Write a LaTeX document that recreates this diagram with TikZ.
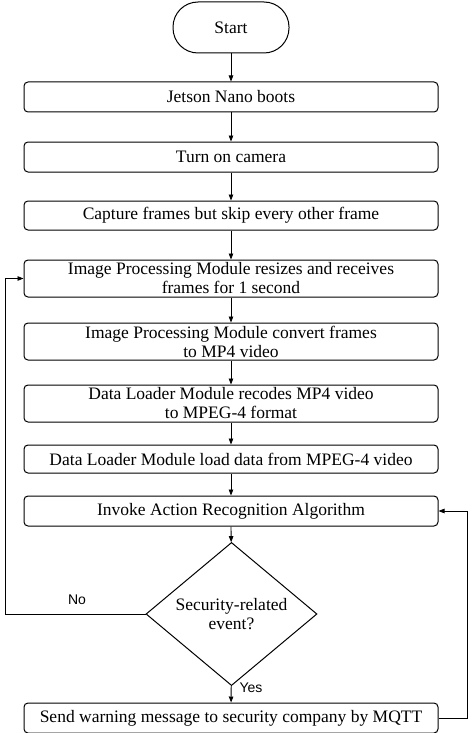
\documentclass[tikz,border=0pt]{standalone}
\usepackage{fontspec}
\setmainfont{Liberation Serif}
\newfontfamily\labelfont{Liberation Sans}
\usetikzlibrary{arrows.meta,shapes.geometric}
\begin{document}
\begin{tikzpicture}[x=1pt,y=-1pt,
  every node/.style={font=\fontsize{17.5}{19}\selectfont},
  proc/.style={draw,line width=1pt,rounded corners=4pt,minimum width=414pt,inner sep=0pt,align=center},
  startbox/.style={draw,line width=1pt,rounded corners=25pt,minimum width=116pt,minimum height=51pt,inner sep=0pt},
  decision/.style={draw,line width=1pt,diamond,minimum width=171pt,minimum height=118pt,inner sep=0pt,align=center},
  flow/.style={line width=0.8pt,-{Triangle[length=6pt,width=4.5pt]}},
  branch/.style={font=\labelfont\fontsize{14}{16}\selectfont}
]
\useasboundingbox (0,0) rectangle (474,733);
\node[startbox] (s) at (231,27.5) {Start};
\node[proc,minimum height=30pt] (b1) at (231,97) {Jetson Nano boots};
\node[proc,minimum height=30pt] (b2) at (231,157) {Turn on camera};
\node[proc,minimum height=29pt] (b3) at (231,215.5) {Capture frames but skip every other frame};
\node[proc,minimum height=37pt] (b4) at (231,278.5) {Image Processing Module resizes and receives\\frames for 1 second};
\node[proc,minimum height=37pt] (b5) at (231,341.5) {Image Processing Module convert frames\\to MP4 video};
\node[proc,minimum height=37pt] (b6) at (231,403.5) {Data Loader Module recodes MP4 video\\to MPEG-4 format};
\node[proc,minimum height=28pt] (b7) at (231,459) {Data Loader Module load data from MPEG-4 video};
\node[proc,minimum height=30pt] (b8) at (231,511) {Invoke Action Recognition Algorithm};
\node[decision] (d) at (231.5,614) {Security-related\\event?};
\node[proc,minimum height=30pt] (b9) at (231,718) {Send warning message to security company by MQTT};
\coordinate (nl) at (5,614);
\coordinate (yr) at (467,718);
\draw[flow] (s) -- (b1);
\draw[flow] (b1) -- (b2);
\draw[flow] (b2) -- (b3);
\draw[flow] (b3) -- (b4);
\draw[flow] (b4) -- (b5);
\draw[flow] (b5) -- (b6);
\draw[flow] (b6) -- (b7);
\draw[flow] (b7) -- (b8);
\draw[flow] (b8) -- (d);
\draw[flow] (d) -- (b9);
\draw[flow] (d.west) -- (nl) |- (b4.west);
\draw[flow] (b9.east) -- (yr) |- (b8.east);
\node[branch] (no) at (77,600) {No};
\node[branch] (yes) at (251,688) {Yes};
\end{tikzpicture}
\end{document}
